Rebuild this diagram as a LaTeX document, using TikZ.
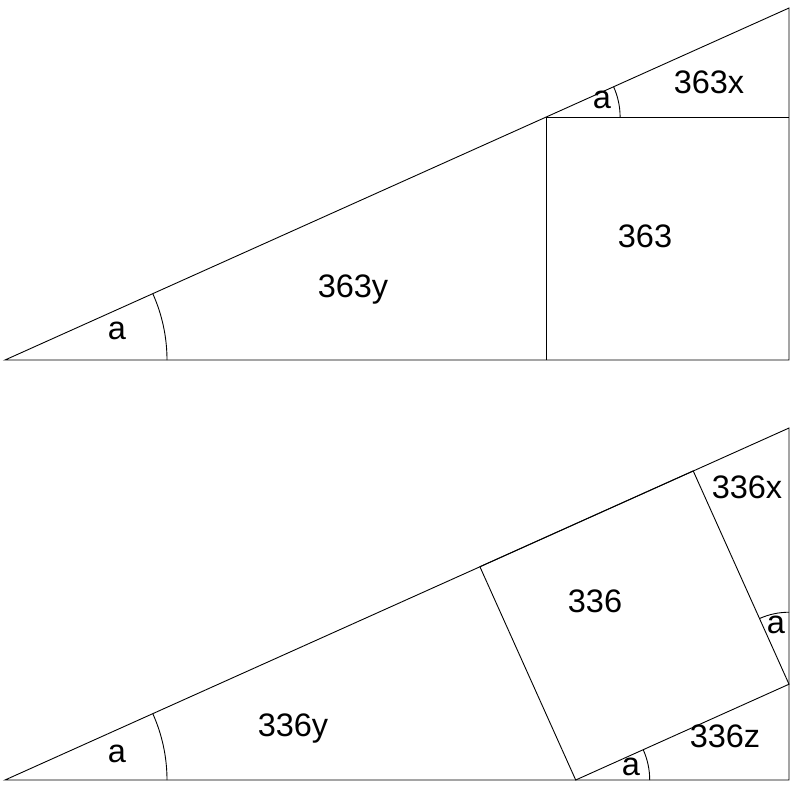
\documentclass[tikz,border=0pt]{standalone}
\usepackage{fontspec}
\setmainfont{Liberation Sans}
\begin{document}
\begin{tikzpicture}[x=1pt,y=-1pt,
  edge/.style={line width=0.9pt,black},
  lbl/.style={inner sep=0pt,anchor=base,font=\fontsize{32.5}{39}\selectfont}]
\useasboundingbox[fill=white] (0,0) rectangle (794,788);
% top triangle
\coordinate (A) at (5,360);
\coordinate (B) at (789,360);
\coordinate (C) at (789,8);
\coordinate (S1) at (546.1,360);
\coordinate (S2) at (546.1,117.1);
\coordinate (S3) at (789,117.1);
\draw[edge] (A) -- (B) -- (C) -- cycle;
\draw[edge] (S1) -- (S2) -- (S3);
\draw[edge] ([shift={(0:162pt)}]A) arc[start angle=0,end angle=24.18,radius=162pt];
\draw[edge] ([shift={(0:74pt)}]S2) arc[start angle=0,end angle=24.18,radius=74pt];
\node[lbl] (t1) at (117,339) {a};
\node[lbl] (t2) at (602,108) {a};
\node[lbl] (t3) at (709,93) {363x};
\node[lbl] (t4) at (645,247) {363};
\node[lbl] (t5) at (353,297) {363y};
% bottom triangle
\coordinate (D) at (5,780);
\coordinate (E) at (789,780);
\coordinate (F) at (789,428);
\coordinate (P0) at (575.7,780);
\coordinate (P1) at (479.9,566.7);
\coordinate (P2) at (693.2,470.9);
\coordinate (P3) at (789,684.2);
\draw[edge] (D) -- (E) -- (F) -- cycle;
\draw[edge] (P0) -- (P1) -- (P2) -- (P3) -- cycle;
\draw[edge] ([shift={(0:162pt)}]D) arc[start angle=0,end angle=24.18,radius=162pt];
\draw[edge] ([shift={(0:74pt)}]P0) arc[start angle=0,end angle=24.18,radius=74pt];
\draw[edge] ([shift={(90:72pt)}]P3) arc[start angle=90,end angle=114.18,radius=72pt];
\node[lbl] (u1) at (117,762) {a};
\node[lbl] (u2) at (631,775) {a};
\node[lbl] (u3) at (776,633) {a};
\node[lbl] (u4) at (747,498) {336x};
\node[lbl] (u5) at (595,612) {336};
\node[lbl] (u6) at (293,736) {336y};
\node[lbl] (u7) at (725,747) {336z};
\end{tikzpicture}
\end{document}
